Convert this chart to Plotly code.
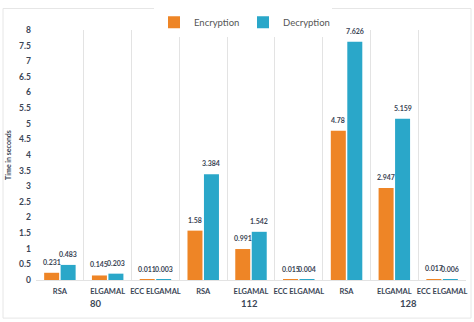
import plotly.graph_objects as go

categories = ["RSA", "ELGAMAL", "ECC ELGAMAL", "RSA", "ELGAMAL", "ECC ELGAMAL", "RSA", "ELGAMAL", "ECC ELGAMAL"]
groups = ["80", "112", "128"]
encryption = [0.231, 0.145, 0.011, 1.58, 0.991, 0.015, 4.78, 2.947, 0.017]
decryption = [0.483, 0.203, 0.003, 3.384, 1.542, 0.004, 7.626, 5.159, 0.006]
enc_labels = ["0.231", "0.145", "0.011", "1.58", "0.991", "0.015", "4.78", "2.947", "0.017"]
dec_labels = ["0.483", "0.203", "0.003", "3.384", "1.542", "0.004", "7.626", "5.159", "0.006"]
y_ticks = [0, 0.5, 1, 1.5, 2, 2.5, 3, 3.5, 4, 4.5, 5, 5.5, 6, 6.5, 7, 7.5, 8]
group_label_x = [0.75, 3.96, 7.29]

FONT = "Lato"
TXT = "#3b4656"
xs = list(range(len(categories)))

fig = go.Figure()
fig.add_trace(go.Bar(
    name="Encryption", x=xs, y=encryption,
    marker=dict(color="#EE8526", line=dict(width=0)),
))
fig.add_trace(go.Bar(
    name="Decryption", x=xs, y=decryption,
    marker=dict(color="#2AA7C9", line=dict(width=0)),
))

L, R, T, B = 36, 8, 24, 42
W, H = 474, 322
pw, ph = W - L - R, H - T - B

fig.update_layout(
    width=W, height=H,
    margin=dict(l=L, r=R, t=T, b=B),
    paper_bgcolor="white", plot_bgcolor="white",
    barmode="group", bargap=0.31, bargroupgap=0.09,
    font=dict(family=FONT, color=TXT),
    showlegend=True,
    legend=dict(orientation="h", x=(154 - L) / pw, xanchor="left", y=(H - B - 16) / ph, yanchor="middle",
                font=dict(family=FONT, size=9.5, color="#555555"),
                itemwidth=30, entrywidth=44),
    xaxis=dict(
        range=[-0.5, 8.5], automargin=False,
        tickmode="array", tickvals=xs, ticktext=categories, tickangle=0,
        tickfont=dict(family=FONT, size=7.5, color=TXT, weight="bold"),
        showgrid=False, zeroline=False, showline=True, linecolor="#e3e3e3", linewidth=1,
        ticks="", ticklabelstandoff=4,
        minor=dict(tickmode="linear", tick0=-0.5, dtick=1, showgrid=True,
                   gridcolor="#e3e3e3", gridwidth=1, ticks=""),
    ),
    yaxis=dict(
        range=[0, 8], tickmode="array", tickvals=y_ticks, automargin=False,
        tickfont=dict(family=FONT, size=8.5, color=TXT, weight="bold"),
        showgrid=False, zeroline=False, showline=False, ticks="",
        ticklabelstandoff=4,
        title=dict(text="Time in seconds", font=dict(family=FONT, size=7, color=TXT, weight="bold"),
                   standoff=6),
    ),
)

# value labels above bars (bar slot offset = half of a bar slot, in px)
slot_px = pw / len(categories) * (1 - 0.31) / 2
for i in xs:
    for vals, labs, sgn in ((encryption, enc_labels, -1), (decryption, dec_labels, 1)):
        fig.add_annotation(x=i, xref="x", y=vals[i], yref="y", text=labs[i],
                           showarrow=False, xanchor="center", yanchor="bottom",
                           xshift=sgn * slot_px / 2, yshift=5,
                           font=dict(family=FONT, size=7, color=TXT, weight="bold"))

for gx, g in zip(group_label_x, groups):
    fig.add_annotation(x=gx, xref="x", y=(H - B - 304) / ph, yref="paper",
                       text=g, showarrow=False, xanchor="center", yanchor="middle",
                       font=dict(family=FONT, size=9.5, color=TXT, weight="bold"))

# outer frame
fig.add_shape(type="rect", xref="paper", yref="paper",
              x0=(3 - L) / pw, x1=(471 - L) / pw,
              y0=(H - B - 319) / ph, y1=(H - B - 2) / ph,
              line=dict(color="#e6e6e6", width=1), layer="below")

fig.write_html("out.html")
